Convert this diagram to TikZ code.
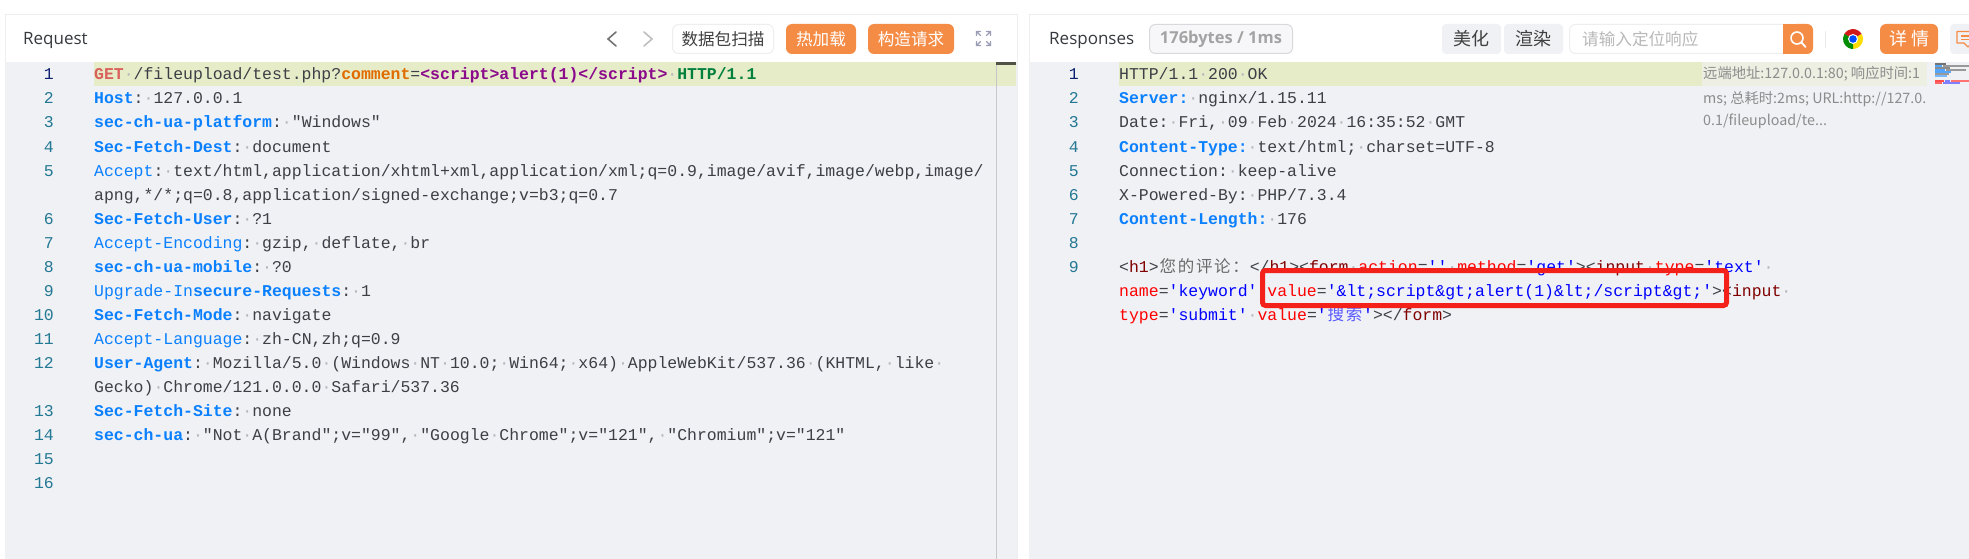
\documentclass[tikz,border=0pt]{standalone}
\usepackage{fontspec}
\newfontfamily\monof{Liberation Mono}
\newfontfamily\cjk{Noto Sans CJK SC}
\newfontfamily\uif{Open Sans}
\definecolor{edbg}{HTML}{EFF1F5}
\definecolor{hl}{HTML}{E6EBC8}
\definecolor{hlb}{HTML}{EDEFE2}
\definecolor{pborder}{HTML}{EDEEF0}
\definecolor{orangeb}{HTML}{F58C46}
\definecolor{txt}{HTML}{3C3F45}
\definecolor{lnum}{HTML}{237893}
\definecolor{lnact}{HTML}{0B216F}
\definecolor{keyb}{HTML}{0A80FF}
\definecolor{dotc}{HTML}{B4B8BE}
\definecolor{getc}{HTML}{D9605C}
\definecolor{paramc}{HTML}{E06C00}
\definecolor{scrc}{HTML}{8B0A8B}
\definecolor{httpc}{HTML}{00803C}
\definecolor{tagc}{HTML}{800000}
\definecolor{attrc}{HTML}{FF0000}
\definecolor{strc}{HTML}{0000FF}
\definecolor{grayb}{HTML}{F0F1F4}
\definecolor{redbox}{HTML}{F4211A}
\definecolor{iconc}{HTML}{9A9DB5}
\definecolor{cjkgray}{HTML}{6A6A6A}
\newcommand\Hk[1]{\textcolor{keyb}{\bfseries #1}}
\newcommand\Ha[1]{\textcolor{keyb}{#1}}
\newcommand\Sp{\textcolor{dotc}{·}}
\newcommand\Tg[1]{\textcolor{tagc}{#1}}
\newcommand\At[1]{\textcolor{attrc}{#1}}
\newcommand\St[1]{\textcolor{strc}{#1}}
\newcommand\Cj[1]{\makebox[18.2pt]{\cjk\fontsize{16.5}{20}\selectfont #1}}
\tikzset{
  code/.style={anchor=base west,inner sep=0pt,text=txt,font=\monof\fontsize{16.47}{20}\selectfont},
  numb/.style={anchor=base east,inner sep=0pt,text=lnum,font=\monof\fontsize{16.47}{20}\selectfont},
  btnorange/.style={fill=orangeb,rounded corners=6pt},
  btngray/.style={fill=grayb,rounded corners=4pt},
  btnwhite/.style={fill=white,draw=pborder,line width=1pt,rounded corners=6pt},
  cjktxt/.style={inner sep=0pt,font=\cjk\fontsize{16.6}{20}\selectfont},
  title/.style={anchor=base west,inner sep=0pt,text=txt!90!black,font=\uif\fontsize{17}{20}\selectfont},
  note/.style={anchor=base west,inner sep=0pt,text=black!45,font=\cjk\fontsize{14.3}{20}\selectfont},
  iconline/.style={line width=1.2pt,draw=#1,line cap=round}
}
\begin{document}
\begin{tikzpicture}[x=1pt,y=-1pt]
\useasboundingbox (0,0) rectangle (1969,559);
\fill[white] (0,0) rectangle (1969,559);
% panels
\draw[pborder,fill=white] (5,14) -- (1017,14) -- (1017,559) -- (5,559) -- cycle;
\draw[pborder,fill=white] (1969,14) -- (1029,14) -- (1029,559) -- (1969,559);
\fill[edbg] (5,62) rectangle (1017,559);
\fill[edbg] (1029,62) rectangle (1969,559);
% current line
\fill[hl] (94,62) rectangle (1016,86);
\fill[hl] (1119,62) rectangle (1702,86);
\fill[hlb] (1702,62) rectangle (1927,86);
% left scrollbar
\draw[black!22,line width=1pt] (996,62) -- (996,559);
\fill[black!65!hl] (996,62) rectangle (1016,65);
% minimap right
\foreach \xa/\xb/\yy/\cc in {1935/1946/63/black!55,1935/1942/65/keyb!70,1943/1969/65/black!40,1935/1950/67/black!45,1935/1945/69/keyb!70,1946/1966/69/black!40,1935/1951/71/keyb!70,1935/1949/73/black!40,1935/1947/75/keyb!55,1935/1944/80/attrc!70,1945/1950/80/strc!50,1951/1969/80/attrc!55,1935/1942/82/attrc!60,1943/1960/82/strc!50}{
  \fill[\cc] (\xa,\yy) rectangle (\xb,\yy+1.6);
}
% line numbers
\foreach \n/\yy in {2/104,3/128,4/152,5/176,6/224,7/248,8/272,9/296,10/320,11/344,12/368,13/416,14/440,15/464,16/488}{
  \node[numb] (ln\n) at (54,\yy) {\n};
}
\node[numb,text=lnact] (ln1) at (54,80) {1};
\node[numb,text=lnact] (rn1) at (1079,80) {1};
\foreach \n/\yy in {2/104,3/128,4/152,5/176,6/200,7/224,8/248,9/272}{
  \node[numb] (rn\n) at (1079,\yy) {\n};
}
% left code
\node[code] (a1) at (94,80) {\textcolor{getc}{\bfseries GET}\Sp/fileupload/test.php?\textcolor{paramc}{\bfseries comment}=\textcolor{scrc}{\bfseries <script>alert(1)</script>}\Sp\textcolor{httpc}{\bfseries HTTP/1.1}};
\node[code] (a2) at (94,104) {\Hk{Host}:\Sp127.0.0.1};
\node[code] (a3) at (94,128) {\Hk{sec-ch-ua-platform}:\Sp"Windows"};
\node[code] (a4) at (94,152) {\Hk{Sec-Fetch-Dest}:\Sp document};
\node[code] (a5) at (94,176) {\Ha{Accept}:\Sp text/html,application/xhtml+xml,application/xml;q=0.9,image/avif,image/webp,image/};
\node[code] (a5b) at (94,200) {apng,*/*;q=0.8,application/signed-exchange;v=b3;q=0.7};
\node[code] (a6) at (94,224) {\Hk{Sec-Fetch-User}:\Sp?1};
\node[code] (a7) at (94,248) {\Ha{Accept-Encoding}:\Sp gzip,\Sp deflate,\Sp br};
\node[code] (a8) at (94,272) {\Hk{sec-ch-ua-mobile}:\Sp?0};
\node[code] (a9) at (94,296) {\Ha{Upgrade-In}\Hk{secure-Requests}:\Sp1};
\node[code] (a10) at (94,320) {\Hk{Sec-Fetch-Mode}:\Sp navigate};
\node[code] (a11) at (94,344) {\Ha{Accept-Language}:\Sp zh-CN,zh;q=0.9};
\node[code] (a12) at (94,368) {\Hk{User-Agent}:\Sp Mozilla/5.0\Sp(Windows\Sp NT\Sp10.0;\Sp Win64;\Sp x64)\Sp AppleWebKit/537.36\Sp(KHTML,\Sp like\Sp};
\node[code] (a12b) at (94,392) {Gecko)\Sp Chrome/121.0.0.0\Sp Safari/537.36};
\node[code] (a13) at (94,416) {\Hk{Sec-Fetch-Site}:\Sp none};
\node[code] (a14) at (94,440) {\Hk{sec-ch-ua}:\Sp"Not\Sp A(Brand";v="99",\Sp"Google\Sp Chrome";v="121",\Sp"Chromium";v="121"};
% right code
\node[code] (b1) at (1119,80) {HTTP/1.1\Sp200\Sp OK};
\node[code] (b2) at (1119,104) {\Hk{Server:}\Sp nginx/1.15.11};
\node[code] (b3) at (1119,128) {Date:\Sp Fri,\Sp09\Sp Feb\Sp2024\Sp16:35:52\Sp GMT};
\node[code] (b4) at (1119,152) {\Hk{Content-Type:}\Sp text/html;\Sp charset=UTF-8};
\node[code] (b5) at (1119,176) {Connection:\Sp keep-alive};
\node[code] (b6) at (1119,200) {X-Powered-By:\Sp PHP/7.3.4};
\node[code] (b7) at (1119,224) {\Hk{Content-Length:}\Sp176};
\node[code] (b9) at (1119,272) {<\Tg{h1}>\textcolor{cjkgray}{\Cj{您}\Cj{的}\Cj{评}\Cj{论}\Cj{：}}</\Tg{h1}><\Tg{form}\Sp\At{action}=\St{''}\Sp\At{method}=\St{'get'}><\Tg{input}\Sp\At{type}=\St{'text'}\Sp};
\node[code] (b9b) at (1119,296) {\At{name}=\St{'keyword'}\Sp\At{value}=\St{'\&lt;script\&gt;alert(1)\&lt;/script\&gt;'}><\Tg{input}\Sp};
\node[code] (b9c) at (1119,320) {\At{type}=\St{'submit'}\Sp\At{value}=\St{'}\textcolor{strc!65}{\Cj{搜}\Cj{索}}\St{'}></\Tg{form}>};
% annotation
\node[note] (n1) at (1703,79) {远端地址:127.0.0.1:80; 响应时间:1};
\node[note] (n2) at (1703,103) {ms; 总耗时:2ms; URL:http://127.0.};
\node[note] (n3) at (1703,126) {0.1/fileupload/te...};
% red box
\draw[redbox,line width=5pt,rounded corners=3pt] (1262.5,270.5) rectangle (1726.5,305.5);
% titles
\node[title] (t1) at (23,45) {Request};
\node[title] (t2) at (1049,45) {Responses};
% left toolbar
\draw[black!55,line width=1.6pt,line cap=round] (616,32) -- (608,39) -- (616,46);
\draw[black!25,line width=1.6pt,line cap=round] (644,32) -- (652,39) -- (644,46);
\draw[btnwhite] (672.5,24.5) rectangle (773.5,53.5);
\node[cjktxt,text=black!75] (b-scan) at (723,39) {数据包扫描};
\fill[btnorange] (786,24) rectangle (856,54);
\node[cjktxt,text=white] (b-hot) at (821,39) {热加载};
\fill[btnorange] (868,24) rectangle (954,54);
\node[cjktxt,text=white] (b-make) at (911,39) {构造请求};
% expand icon
\begin{scope}[shift={(983.5,38.5)},iconline=iconc]
  \draw (-7,-3) -- (-7,-7) -- (-3,-7) (-7,-7) -- (-3,-3);
  \draw (7,-3) -- (7,-7) -- (3,-7) (7,-7) -- (3,-3);
  \draw (-7,3) -- (-7,7) -- (-3,7) (-7,7) -- (-3,3);
  \draw (7,3) -- (7,7) -- (3,7) (7,7) -- (3,3);
\end{scope}
% right toolbar
\draw[black!10!grayb,line width=1pt,rounded corners=6pt,fill=grayb!55] (1149.5,24.5) rectangle (1292.5,53.5);
\node[inner sep=0pt,text=black!36,font=\uif\bfseries\fontsize{16.5}{20}\selectfont] (t3) at (1221,39.5) {176bytes / 1ms};
\fill[btngray] (1442,24) rectangle (1501,54);
\node[cjktxt,text=black!75,font=\cjk\fontsize{18}{20}\selectfont] (b-pretty) at (1471,39) {美化};
\fill[btngray] (1504,24) rectangle (1563,54);
\node[cjktxt,text=black!75,font=\cjk\fontsize{18}{20}\selectfont] (b-render) at (1533,39) {渲染};
\draw[btnwhite] (1569.5,24.5) rectangle (1800,53.5);
\node[cjktxt,anchor=west,text=black!28] (b-input) at (1582,39) {请输入定位响应};
\fill[orangeb,rounded corners=6pt] (1790,24) rectangle (1813,54);
\fill[orangeb] (1783,24) rectangle (1800,54);
\draw[white,line width=1.6pt] (1797,38) circle[radius=6pt];
\draw[white,line width=1.8pt,line cap=round] (1801.5,42.5) -- (1805.5,47);
\draw[black!8,line width=1pt] (1825,31) -- (1825,48);
% chrome icon
\begin{scope}[shift={(1853,39)},y=1pt]
  \fill[red!80!black!90] (0,0) -- (30:10pt) arc[start angle=30,end angle=150,radius=10pt] -- cycle;
  \fill[yellow!80!orange] (0,0) -- (-90:10pt) arc[start angle=-90,end angle=30,radius=10pt] -- cycle;
  \fill[green!55!black] (0,0) -- (150:10pt) arc[start angle=150,end angle=270,radius=10pt] -- cycle;
  \fill[white] (0,0) circle[radius=5pt];
  \fill[blue!70!cyan] (0,0) circle[radius=3.8pt];
\end{scope}
\fill[btnorange] (1880,24) rectangle (1938,54);
\node[cjktxt,text=white,font=\cjk\fontsize{18}{20}\selectfont] (b-detail) at (1909,39) {详\hspace{4pt}情};
% feedback button
\fill[btngray] (1950,24) rectangle (1985,54);
\draw[orangeb,line width=1.2pt,line join=round] (1975,31.5) -- (1957,31.5) -- (1957,43) -- (1964,43) -- (1968,47) -- (1972,43) -- (1975,43);
\draw[orangeb,line width=1.2pt] (1961,36) -- (1975,36) (1961,39.5) -- (1970,39.5);
\end{tikzpicture}
\end{document}
